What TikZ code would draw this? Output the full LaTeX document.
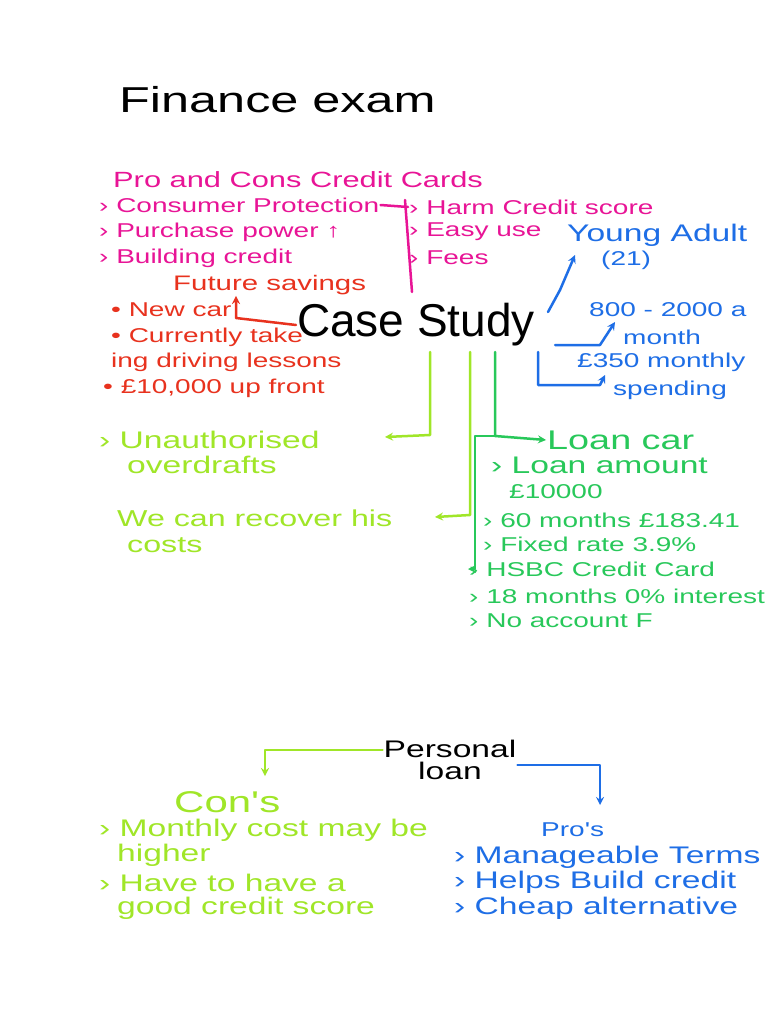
\documentclass[tikz,border=0pt]{standalone}
\usepackage{fontspec}
\setmainfont{Liberation Sans}
\newfontfamily\hand[FakeStretch=1.4]{Liberation Sans}
\definecolor{cpink}{RGB}{232,20,150}
\definecolor{cred}{RGB}{232,50,30}
\definecolor{clime}{RGB}{160,230,40}
\definecolor{cgreen}{RGB}{40,200,90}
\definecolor{cblue}{RGB}{30,110,230}
\begin{document}
\begin{tikzpicture}[x=1pt,y=-1pt,
  txt/.style={anchor=west,inner sep=1pt,font=\hand\fontsize{20}{22}\selectfont},
  big/.style={font=\hand\fontsize{24}{26}\selectfont},
  ln/.style={line width=2.5pt,line cap=round,line join=round},
  arr/.style={ln,->,>=stealth}]
\useasboundingbox (0,0) rectangle (768,1024);
\fill[white] (0,0) rectangle (768,1024);
\node[txt,font=\hand\fontsize{36}{38}\selectfont] (title) at (118,100) {Finance exam};
% pink
\node[txt,cpink,font=\hand\fontsize{22}{24}\selectfont] (pc) at (112,180) {Pro and Cons Credit Cards};
\node[txt,cpink] (p1) at (98,205) {› Consumer Protection};
\node[txt,cpink] (p2) at (98,232) {› Purchase power ↑};
\node[txt,cpink] (p3) at (98,258) {› Building credit};
\node[txt,cpink] (p4) at (408,207) {› Harm Credit score};
\node[txt,cpink] (p5) at (408,232) {› Easy use};
\node[txt,cpink] (p6) at (408,258) {› Fees};
% black center
\node[txt,font=\fontsize{46}{48}\selectfont] (cs) at (296,325) {Case Study};
\coordinate (pj) at (412,292);
\draw[ln,cpink] (p1.east) -- (p4.west) ;
\draw[ln,cpink] (405,200) -- (pj);
% red
\node[txt,cred,font=\hand\fontsize{21}{23}\selectfont] (fs) at (172,285) {Future savings};
\node[txt,cred] (r1) at (110,310) {• New car};
\node[txt,cred] (r2) at (110,337) {• Currently take};
\node[txt,cred] (r3) at (110,362) {ing driving lessons};
\node[txt,cred] (r4) at (102,388) {• £10,000 up front};
\coordinate (rj) at (236,318);
\draw[arr,cred] (cs.west) -- (rj) -- (fs.south -| rj);
% blue
\node[txt,cblue,big] (b1) at (566,235) {Young Adult};
\node[txt,cblue] (b1b) at (600,260) {(21)};
\node[txt,cblue] (b2) at (588,310) {800 - 2000 a};
\node[txt,cblue] (b2b) at (622,337) {month};
\node[txt,cblue] (b3) at (576,362) {£350 monthly};
\node[txt,cblue] (b3b) at (612,390) {spending};
\coordinate (bj1) at (548,312);
\draw[arr,cblue] (bj1) -- (560,290) -- (575,255);
\draw[arr,cblue] (555,345) -- (600,345) -- (615,322);
\draw[arr,cblue] (538,352) -- (538,385) -- (600,385) -- (605,375);
% lime
\node[txt,clime,big] (l1) at (98,440) {› Unauthorised};
\node[txt,clime,big] (l1b) at (126,465) {overdrafts};
\node[txt,clime,font=\hand\fontsize{23}{25}\selectfont] (l2) at (116,518) {We can recover his};
\node[txt,clime,font=\hand\fontsize{23}{25}\selectfont] (l2b) at (126,545) {costs};
\coordinate (lj1) at (430,352);
\coordinate (lj2) at (470,352);
\draw[arr,clime] (lj1) -- (430,435) -- (385,437);
\draw[arr,clime] (lj2) -- (470,515) -- (435,517);
% green
\node[txt,cgreen,font=\hand\fontsize{27}{29}\selectfont] (g0) at (546,440) {Loan car};
\node[txt,cgreen,big] (g1) at (490,465) {› Loan amount};
\node[txt,cgreen] (g1b) at (508,492) {£10000};
\node[txt,cgreen] (g2) at (482,520) {› 60 months £183.41};
\node[txt,cgreen] (g3) at (482,544) {› Fixed rate 3.9\%};
\node[txt,cgreen] (g4) at (468,569) {› HSBC Credit Card};
\node[txt,cgreen] (g5) at (468,596) {› 18 months 0\% interest};
\node[txt,cgreen] (g6) at (468,621) {› No account F};
\coordinate (gj) at (495,352);
\draw[arr,cgreen] (gj) -- (495,436) -- (g0.west);
\draw[arr,cgreen] (495,436) -- (475,436) -- (475,569) -- (g4.west);
% bottom
\node[txt,font=\hand\fontsize{24}{22}\selectfont,align=center,anchor=center] (pl) at (450,760) {Personal\\loan};
\node[txt,clime,font=\hand\fontsize{30}{32}\selectfont] (con) at (173,802) {Con's};
\node[txt,clime,big] (c1) at (98,830) {› Monthly cost may be};
\node[txt,clime,big] (c1b) at (116,855) {higher};
\node[txt,clime,big] (c2) at (98,883) {› Have to have a};
\node[txt,clime,big] (c2b) at (116,908) {good credit score};
\node[txt,cblue] (pro) at (540,830) {Pro's};
\node[txt,cblue,big] (q1) at (453,857) {› Manageable Terms};
\node[txt,cblue,big] (q2) at (453,882) {› Helps Build credit};
\node[txt,cblue,big] (q3) at (453,908) {› Cheap alternative};
\draw[arr,clime] (pl.west |- 0,750) -- (265,750) -- (265,776);
\draw[arr,cblue] (pl.east |- 0,765) -- (600,765) -- (600,805);
\end{tikzpicture}
\end{document}
